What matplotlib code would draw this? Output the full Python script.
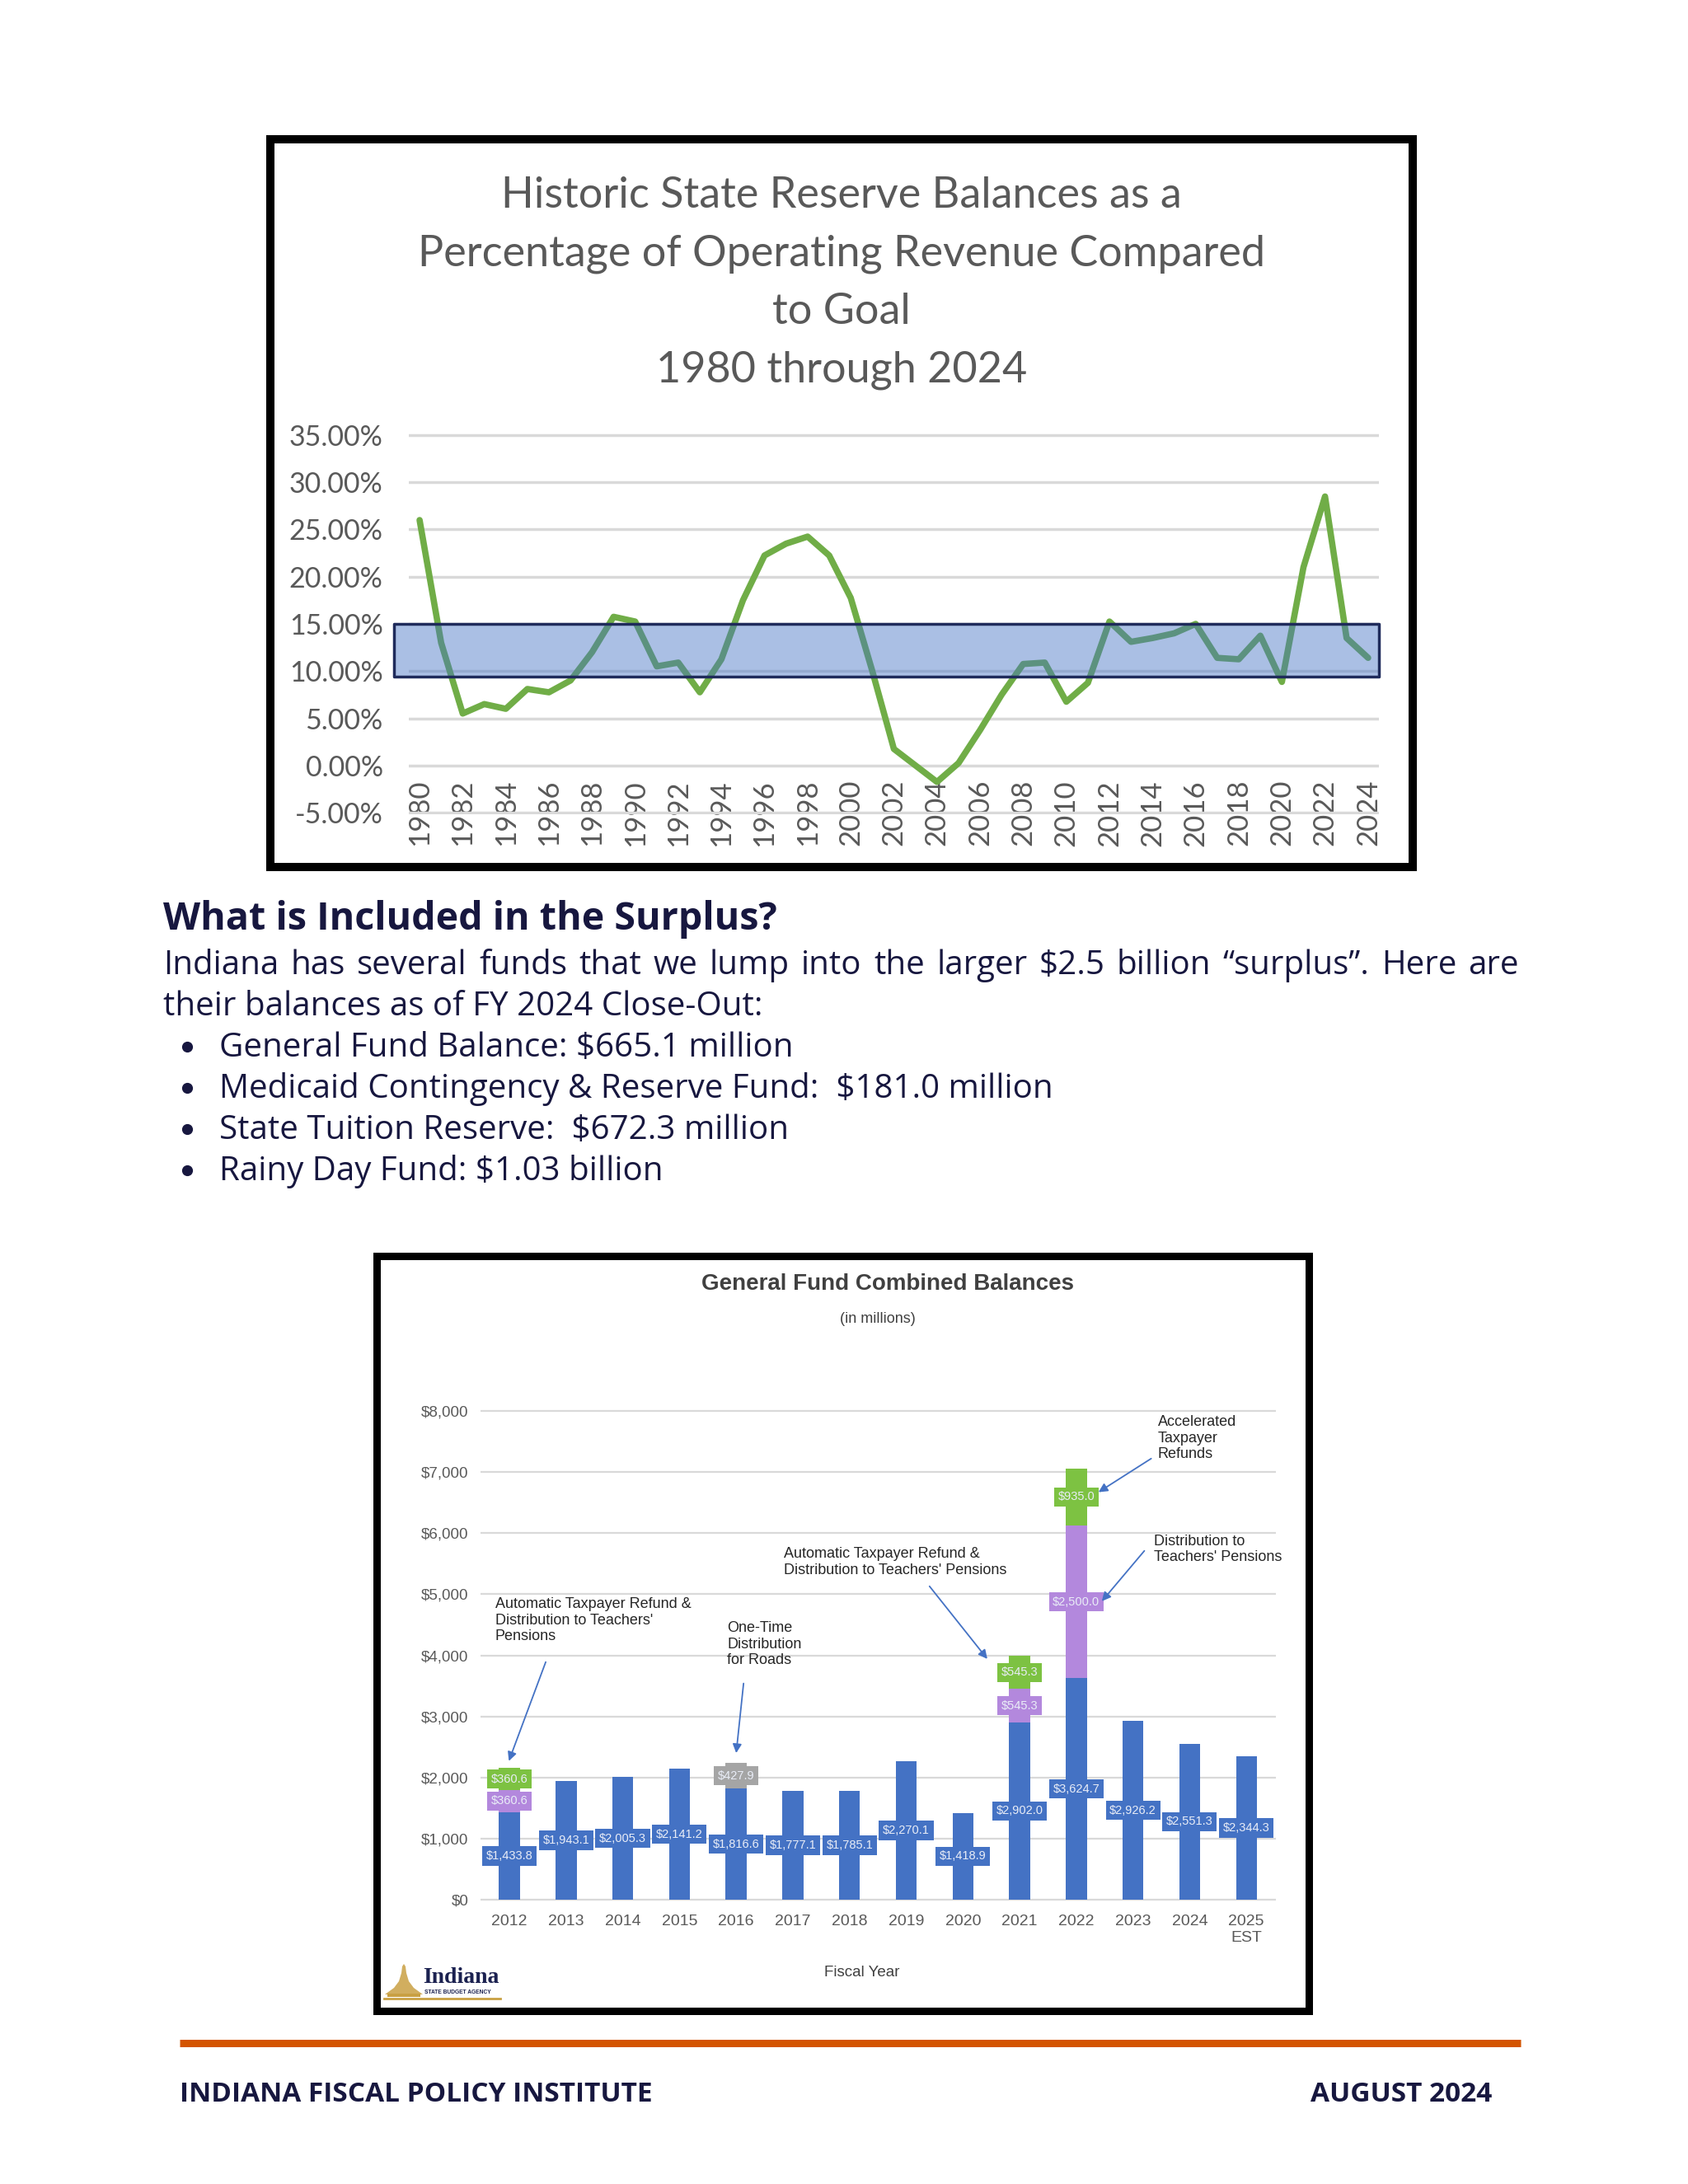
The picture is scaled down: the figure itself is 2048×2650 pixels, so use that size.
import matplotlib
matplotlib.use('Agg')
import matplotlib.pyplot as plt
from matplotlib.patches import Rectangle, Polygon
from matplotlib.lines import Line2D
import numpy as np

W, H = 2048, 2650
DPI = 100

# ---------------- data ----------------
years_top = list(range(1980, 2025))
reserve_pct = [26.0, 13.0, 5.5, 6.5, 6.0, 8.1, 7.75, 9.0, 12.0, 15.75,
               15.25, 10.5, 10.9, 7.75, 11.25, 17.5, 22.25, 23.5, 24.25, 22.25,
               17.75, 10.0, 1.75, 0.0, -1.75, 0.25, 3.75, 7.5, 10.75, 10.9,
               6.75, 8.75, 15.25, 13.1, 13.5, 14.0, 15.0, 11.4, 11.25, 13.75,
               8.85, 21.0, 28.5, 13.5, 11.4]
goal_low, goal_high = 9.4, 15.0
top_yticks = [-5, 0, 5, 10, 15, 20, 25, 30, 35]
top_title = ["Historic State Reserve Balances as a",
             "Percentage of Operating Revenue Compared",
             "to Goal",
             "1980 through 2024"]

fiscal_years = ['2012', '2013', '2014', '2015', '2016', '2017', '2018',
                '2019', '2020', '2021', '2022', '2023', '2024', '2025\nEST']
base_balance = [1433.8, 1943.1, 2005.3, 2141.2, 1816.6, 1777.1, 1785.1,
                2270.1, 1418.9, 2902.0, 3624.7, 2926.2, 2551.3, 2344.3]
pension_dist = [360.6, 0, 0, 0, 0, 0, 0, 0, 0, 545.3, 2500.0, 0, 0, 0]
taxpayer_refund = [360.6, 0, 0, 0, 0, 0, 0, 0, 0, 545.3, 935.0, 0, 0, 0]
road_dist = [0, 0, 0, 0, 427.9, 0, 0, 0, 0, 0, 0, 0, 0, 0]
bottom_yticks = [0, 1000, 2000, 3000, 4000, 5000, 6000, 7000, 8000]

heading = "What is Included in the Surplus?"
para_line1 = "Indiana has several funds that we lump into the larger $2.5 billion \u201csurplus\u201d. Here are"
para_line2 = "their balances as of FY 2024 Close-Out:"
bullets = ["General Fund Balance: $665.1 million",
           "Medicaid Contingency & Reserve Fund:  $181.0 million",
           "State Tuition Reserve:  $672.3 million",
           "Rainy Day Fund: $1.03 billion"]

# ---------------- helpers ----------------
fig = plt.figure(figsize=(W / DPI, H / DPI), dpi=DPI, facecolor='white')


def fx(x):
    return x / W


def fy(y):
    return 1 - y / H


def ax_rect(l, t, r, b):
    return [l / W, 1 - b / H, (r - l) / W, (b - t) / H]


def frame(l, t, r, b, th):
    h = th / 2
    fig.patches.append(Rectangle((fx(l + h), fy(b - h)), (r - l - th) / W, (b - t - th) / H,
                                 transform=fig.transFigure, fill=False,
                                 edgecolor='black', lw=th * 72 / DPI, zorder=10))


NAVY = '#17173F'
GRAY = '#595959'

# ---------------- top chart ----------------
for i, line in enumerate(top_title):
    fig.text(fx(1021), fy(252 + i * 70.5), line, ha='center', va='baseline',
             fontsize=37.5, color=GRAY, family='Lato')

axT = fig.add_axes(ax_rect(496, 525.7, 1673, 988.3))
axT.set_xlim(1979.5, 2024.5)
axT.set_ylim(-5.2, 35.2)
axT.set_yticks(top_yticks)
axT.set_yticklabels([f"{v:.2f}%" for v in top_yticks])
axT.set_xticks(list(range(1980, 2025, 2)))
axT.tick_params(axis='y', length=0, pad=22.5, labelsize=24.5, labelcolor=GRAY)
axT.tick_params(axis='x', length=0, pad=-30.5, labelsize=25, labelcolor=GRAY,
                labelrotation=90)
for lab in axT.get_xticklabels() + axT.get_yticklabels():
    lab.set_family('Lato')
for s in axT.spines.values():
    s.set_visible(False)
axT.grid(axis='y', color='#D9D9D9', lw=2.5)
axT.grid(axis='x', visible=False)
axT.set_axisbelow(True)
axT.plot(years_top, reserve_pct, color='#70AD47', lw=5.5, zorder=3,
         solid_joinstyle='round', solid_capstyle='round')
axT.fill_between([1978.8, 2024.5], goal_low, goal_high,
                 facecolor=(0.267, 0.447, 0.769, 0.45), edgecolor='#1F2B5B',
                 lw=2.5, zorder=4, clip_on=False)
frame(323, 164, 1719, 1057, 10)

# ---------------- text block ----------------
fig.text(fx(198), fy(1128), heading, ha='left', va='baseline', fontsize=33.6,
         fontweight='bold', color=NAVY, family='Open Sans')

renderer = fig.canvas.get_renderer()


def justify(words, x0, x1, y, **kw):
    ts, widths = [], []
    for w in words:
        t = fig.text(0, fy(y), w, ha='left', va='baseline', **kw)
        widths.append(t.get_window_extent(renderer).width)
        ts.append(t)
    gap = (x1 - x0 - sum(widths)) / (len(words) - 1)
    x = x0
    for t, wd in zip(ts, widths):
        t.set_x(fx(x))
        x += wd + gap


ptxt = dict(fontsize=29, color=NAVY, family='Open Sans')
justify(para_line1.split(' '), 198, 1843, 1182, **ptxt)
fig.text(fx(198), fy(1232), para_line2, ha='left', va='baseline', **ptxt)
for i, b in enumerate(bullets):
    yb = 1282 + i * 50
    fig.lines.append(Line2D([fx(227)], [fy(yb - 12)], marker='o', ms=8.5,
                            color=NAVY, transform=fig.transFigure))
    fig.text(fx(266), fy(yb), b, ha='left', va='baseline', **ptxt)

# ---------------- bottom chart ----------------
fig.text(fx(1077), fy(1565), "General Fund Combined Balances", ha='center',
         va='baseline', fontsize=20, fontweight='bold', color='#404040',
         family='Liberation Sans')
fig.text(fx(1065), fy(1605), "(in millions)", ha='center', va='baseline',
         fontsize=13, color='#404040', family='Liberation Sans')

axB = fig.add_axes(ax_rect(583, 1709, 1548, 2308))
x = np.arange(len(fiscal_years))
axB.set_xlim(-0.51, 13.52)
axB.set_ylim(-40, 8040)
for s in axB.spines.values():
    s.set_visible(False)
axB.grid(axis='y', color='#D9D9D9', lw=1.6)
axB.set_axisbelow(True)
axB.set_yticks(bottom_yticks)
axB.set_yticklabels([f"${v:,.0f}" for v in bottom_yticks])
axB.set_xticks(x)
axB.set_xticklabels(fiscal_years)
axB.tick_params(axis='y', length=0, pad=10.5, labelsize=13.5, labelcolor=GRAY)
axB.tick_params(axis='x', length=0, pad=10.5, labelsize=14, labelcolor=GRAY)
for lab in axB.get_xticklabels() + axB.get_yticklabels():
    lab.set_family('Liberation Sans')
    lab.set_linespacing(1.3)

BLUE, PURPLE, GREEN, GREYB = '#4472C4', '#B388DD', '#7DC242', '#A5A5A5'
bw = 0.37
bottoms = np.zeros(len(x))
for vals, col in [(base_balance, BLUE), (pension_dist, PURPLE),
                  (taxpayer_refund, GREEN), (road_dist, GREYB)]:
    vals = np.array(vals, dtype=float)
    axB.bar(x, vals, bw, bottom=bottoms, color=col, zorder=2)
    for xi, v, b0 in zip(x, vals, bottoms):
        if v > 0:
            axB.text(xi, b0 + v / 2, f"${v:,.1f}", ha='center', va='center',
                     fontsize=10.5, color='#E9EDF7', family='Liberation Sans',
                     zorder=5,
                     bbox=dict(boxstyle='square,pad=0.32', fc=col, ec='none'))
    bottoms = bottoms + vals

ann = dict(fontsize=13, color='#262626', family='Liberation Sans',
           ha='left', va='top', linespacing=1.2, zorder=6)
axB.text(-0.25, 4950, "Automatic Taxpayer Refund &\nDistribution to Teachers'\nPensions", **ann)
axB.text(3.84, 4560, "One-Time\nDistribution\nfor Roads", **ann)
axB.text(4.84, 5770, "Automatic Taxpayer Refund &\nDistribution to Teachers' Pensions", **ann)
axB.text(11.44, 7930, "Accelerated\nTaxpayer\nRefunds", **ann)
axB.text(11.37, 5980, "Distribution to\nTeachers' Pensions", **ann)

arrows = [((0.64, 3890), (-0.01, 2270)),
          ((4.13, 3540), (4.00, 2400)),
          ((7.41, 5130), (8.43, 3940)),
          ((11.32, 7220), (10.39, 6670)),
          ((11.20, 5710), (10.45, 4885))]
for start, end in arrows:
    axB.annotate('', xy=end, xytext=start, zorder=6,
                 arrowprops=dict(arrowstyle='-|>', color='#4472C4', lw=1.3,
                                 mutation_scale=16, shrinkA=0, shrinkB=0))

fig.text(fx(1046), fy(2398), "Fiscal Year", ha='center', va='baseline',
         fontsize=13.5, color='#404040', family='Liberation Sans')

# logo
GOLD = '#C9A043'
fig.text(fx(513), fy(2406), "Indiana", ha='left', va='baseline', fontsize=20,
         fontweight='bold', color='#1B2150', family='Liberation Serif')
fig.text(fx(515), fy(2419), "STATE BUDGET AGENCY", ha='left', va='baseline',
         fontsize=4.8, fontweight='bold', color='#1B2150', family='Liberation Sans')
fig.lines.append(Line2D([fx(466), fx(607)], [fy(2425), fy(2425)], color=GOLD,
                        lw=2, transform=fig.transFigure))
dome = [(467, 2420), (478, 2412), (484, 2404), (487, 2394), (488, 2386),
        (490, 2383), (492, 2386), (493, 2394), (496, 2404), (502, 2412),
        (513, 2420)]
fig.patches.append(Polygon([(fx(a), fy(b)) for a, b in dome], closed=True,
                           transform=fig.transFigure, facecolor=GOLD,
                           edgecolor='none', alpha=0.85))
fig.patches.append(Rectangle((fx(470), fy(2423)), 40 / W, 4 / H,
                             transform=fig.transFigure, facecolor=GOLD,
                             edgecolor='none'))

frame(452, 1519, 1592, 2444, 9)

# ---------------- footer ----------------
fig.lines.append(Line2D([fx(218), fx(1845)], [fy(2479), fy(2479)],
                        color='#D35400', lw=9 * 72 / DPI,
                        transform=fig.transFigure, solid_capstyle='butt'))
fig.text(fx(218), fy(2550), "INDIANA FISCAL POLICY INSTITUTE", ha='left',
         va='baseline', fontsize=24, fontweight='bold', color=NAVY,
         family='Open Sans')
fig.text(fx(1810), fy(2550), "AUGUST 2024", ha='right', va='baseline',
         fontsize=24, fontweight='bold', color=NAVY, family='Open Sans')

fig.savefig('out.png', dpi=DPI, facecolor='white')
